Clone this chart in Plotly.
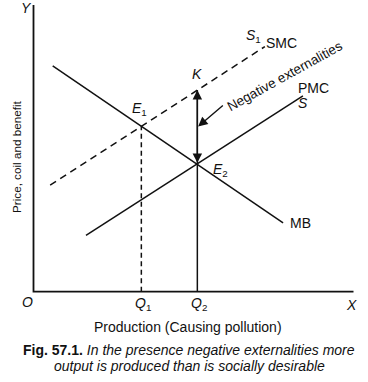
import plotly.graph_objects as go

# ---- data (chart units) ----
mb_x = [0.60, 7.80]
mb_y = [7.06, 2.15]
pmc_x = [1.64, 8.42]
pmc_y = [1.76, 6.12]
smc_x = [0.52, 7.23]
smc_y = [3.33, 7.66]
q_x = [3.37, 5.12]
q_labels = ["<i>Q</i><sub>1</sub>", "<i>Q</i><sub>2</sub>"]
e1_y = 5.17
e2_y = 3.98
k_y = 6.30
x_max = 10.0
y_max = 8.96

# ---- layout geometry ----
W, H = 368, 382
OX, OY, S = 33.5, 291.7, 32.0  # origin pixel and px per unit


def dx(p):
    return (p - OX) / S


def dy(p):
    return (OY - p) / S


FONT = "Liberation Sans, Arial, sans-serif"
INK = "#111111"

fig = go.Figure()
lw = 1.5
# axes
fig.add_trace(go.Scatter(x=[0, 0, x_max], y=[y_max, 0, 0], mode="lines",
                         line=dict(color=INK, width=1.8), hoverinfo="skip"))
# MB
fig.add_trace(go.Scatter(x=mb_x, y=mb_y, mode="lines",
                         line=dict(color=INK, width=lw), hoverinfo="skip"))
# PMC
fig.add_trace(go.Scatter(x=pmc_x, y=pmc_y, mode="lines",
                         line=dict(color=INK, width=lw), hoverinfo="skip"))
# SMC (dashed)
fig.add_trace(go.Scatter(x=smc_x, y=smc_y, mode="lines",
                         line=dict(color=INK, width=lw, dash="7px,5px"), hoverinfo="skip"))
# Q1 dashed drop line
fig.add_trace(go.Scatter(x=[q_x[0], q_x[0]], y=[0, e1_y], mode="lines",
                         line=dict(color=INK, width=lw, dash="5px,3.5px"), hoverinfo="skip"))
# Q2 solid line
fig.add_trace(go.Scatter(x=[q_x[1], q_x[1]], y=[0, k_y], mode="lines",
                         line=dict(color=INK, width=lw), hoverinfo="skip"))

ann = []


def label(text, x, y, size=14, xshift=0, yshift=0, angle=0):
    ann.append(dict(text=text, x=x, y=y, xref="x", yref="y", showarrow=False,
                    xshift=xshift, yshift=yshift, textangle=angle,
                    font=dict(family=FONT, size=size, color=INK),
                    xanchor="center", yanchor="middle"))


# point labels
label("<i>E</i><sub>1</sub>", q_x[0], e1_y, xshift=-2, yshift=17)
label("<i>E</i><sub>2</sub>", q_x[1], e2_y, xshift=23, yshift=-6)
label("<i>K</i>", q_x[1], k_y, yshift=16)
label("<i>S</i><sub>1</sub>", smc_x[1], smc_y[1], xshift=-11, yshift=11)
label("SMC", smc_x[1], smc_y[1], xshift=17, yshift=4)
label("PMC", pmc_x[1], pmc_y[1], xshift=11, yshift=8)
label("<i>S</i>", pmc_x[1], pmc_y[1], xshift=0, yshift=-7)
label("MB", mb_x[1], mb_y[1], xshift=17, yshift=-0.5)
# axis letters
label("<i>O</i>", dx(27), dy(302))
label("<i>X</i>", dx(351), dy(305))
label("<i>Y</i>", dx(26), dy(8))
for qx, ql in zip(q_x, q_labels):
    label(ql, qx, 0, xshift=1.5, yshift=-12)

# negative externalities text
label("Negative externalities", dx(284), dy(76), size=13.5, angle=-29)

# axis titles
label("Production (Causing pollution)", dx(187.5), dy(327), size=14)
label("Price, coil and benefit", dx(16), dy(157), size=11.7, angle=-90)

# caption
label("<b>Fig. 57.1.</b> <i>In the presence negative externalities more</i>",
      dx(189), dy(350), size=14)
label("<i>output is produced than is socially desirable</i>",
      dx(189), dy(366), size=14)

# double arrow K-E2
ann.append(dict(x=q_x[1], y=k_y, ax=q_x[1], ay=e2_y, xref="x", yref="y",
                axref="x", ayref="y", text="", showarrow=True,
                arrowhead=2, startarrowhead=2, arrowside="end+start",
                arrowsize=1.35, startarrowsize=1.35, arrowwidth=1.4,
                arrowcolor=INK))
# pointer arrow
ann.append(dict(x=q_x[1], y=(k_y + e2_y) / 2, ax=27, ay=-23, xref="x", yref="y",
                text="", showarrow=True, arrowhead=2, arrowsize=1.35,
                arrowwidth=1.4, arrowcolor=INK, standoff=1))

fig.update_layout(
    width=W, height=H,
    margin=dict(l=0, r=0, t=0, b=0),
    paper_bgcolor="white", plot_bgcolor="white",
    showlegend=False,
    xaxis=dict(range=[dx(0), dx(W)], visible=False, fixedrange=True),
    yaxis=dict(range=[dy(H), dy(0)], visible=False, fixedrange=True),
    annotations=ann,
)

fig.write_html("out.html", config={"displayModeBar": False},
               post_script="document.body.style.margin='0';")
